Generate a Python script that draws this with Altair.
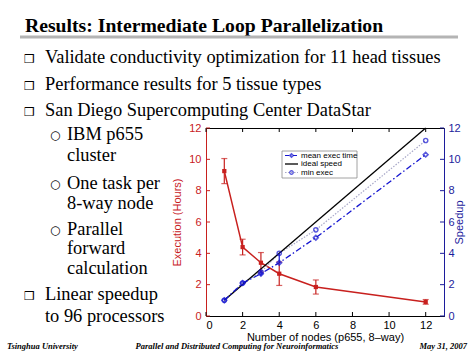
import altair as alt
import pandas as pd

# ---------------- data ----------------
nodes = [1, 2, 3, 4, 6, 12]
exec_hours = [9.25, 4.4, 3.4, 2.7, 1.85, 0.9]
exec_low = [8.45, 3.9, 2.8, 1.95, 1.4, 0.75]
exec_high = [10.05, 4.9, 4.05, 3.45, 2.3, 1.05]
speedup_mean = [1.0, 2.1, 2.7, 3.4, 5.0, 10.3]
speedup_min = [1.0, 2.1, 2.8, 4.0, 5.5, 11.2]
speed_err_nodes = [3, 4]
speed_err_low = [2.55, 3.4]
speed_err_high = [2.9, 4.0]
ideal_nodes = [1, 12]
ideal_speedup = [1, 12]
x_ticks = [0, 2, 4, 6, 8, 10, 12]
y_ticks = [0, 2, 4, 6, 8, 10, 12]

title_text = "Results: Intermediate Loop Parallelization"
bullets = [
    "Validate conductivity optimization for 11 head tissues",
    "Performance results for 5 tissue types",
    "San Diego Supercomputing Center DataStar",
]
sub_lines = ["IBM p655", "cluster", "One task per", "8-way node", "Parallel", "forward", "calculation"]
sub_has_bullet = [True, False, True, False, True, False, False]
last_bullet = ["Linear speedup", "to 96 processors"]
footer_left = "Tsinghua University"
footer_mid = "Parallel and Distributed Computing for Neuroinformatics"
footer_right = "May 31, 2007"
legend_labels = ["mean exec time", "ideal speed", "min exec"]

# ---------------- styling ----------------
W, H = 238, 188
RED = "#c8201e"
BLUE_AX = "#1c1c9c"
BLUE = "#1414d0"
MINC = "#a8a8c8"
SANS = "Liberation Sans, Arial, Helvetica, sans-serif"
SERIF = "Liberation Serif, 'Times New Roman', 'DejaVu Serif', serif"

xscale = alt.Scale(domain=[0, 13], nice=False, zero=False)
yscale = alt.Scale(domain=[0, 12], nice=False)

xaxis = alt.Axis(values=x_ticks, title="Number of nodes (p655, 8\u2013way)", ticks=False, grid=False,
                 labelColor="black", domainColor="black", titleColor="black",
                 labelFont=SANS, titleFont=SANS, labelFontSize=11, titleFontSize=11,
                 titleFontWeight="normal", labelPadding=3, titlePadding=1)
yaxis_left = alt.Axis(values=y_ticks, title="Execution (Hours)", ticks=False, grid=False, orient="left",
                      labelColor=RED, domainColor=RED, titleColor=RED,
                      labelFont=SANS, titleFont=SANS, labelFontSize=11, titleFontSize=11,
                      titleFontWeight="normal", labelPadding=5, titlePadding=6)
yaxis_right = alt.Axis(values=y_ticks, title="Speedup", ticks=False, grid=False, orient="right",
                       labelColor=BLUE_AX, domainColor=BLUE_AX, titleColor=BLUE_AX,
                       labelFont=SANS, titleFont=SANS, labelFontSize=11, titleFontSize=11,
                       titleFontWeight="normal", labelPadding=4, titlePadding=4, titleAngle=270)

X = alt.X("nodes:Q", scale=xscale, axis=xaxis)

# ---------------- execution (left axis) ----------------
exec_df = pd.DataFrame({"nodes": nodes, "v": exec_hours, "lo": exec_low, "hi": exec_high})
YL = alt.Y("v:Q", scale=yscale, axis=yaxis_left)
eb = alt.Chart(exec_df)
red_line = eb.mark_line(color=RED, strokeWidth=1.5).encode(x=X, y=YL)
red_err = eb.mark_rule(color=RED, strokeWidth=1.2).encode(
    x=X, y=alt.Y("lo:Q", scale=yscale, axis=yaxis_left), y2="hi:Q")
red_cap_lo = eb.mark_tick(color=RED, orient="horizontal", size=6, thickness=1.2).encode(
    x=X, y=alt.Y("lo:Q", scale=yscale, axis=yaxis_left))
red_cap_hi = eb.mark_tick(color=RED, orient="horizontal", size=6, thickness=1.2).encode(
    x=X, y=alt.Y("hi:Q", scale=yscale, axis=yaxis_left))
red_pts = eb.mark_point(color=RED, filled=True, shape="square", size=18, opacity=1).encode(x=X, y=YL)

tick_df = pd.DataFrame({"t": y_ticks})
left_ticks = alt.Chart(tick_df).mark_rule(color=RED).encode(
    y=alt.Y("t:Q", scale=yscale, axis=yaxis_left), x=alt.value(0), x2=alt.value(4))

layer_left = alt.layer(red_line, red_err, red_cap_lo, red_cap_hi, red_pts, left_ticks)

# ---------------- speedup (right axis) ----------------
YR = alt.Y("v:Q", scale=yscale, axis=yaxis_right)
mean_df = pd.DataFrame({"nodes": nodes, "v": speedup_mean})
min_df = pd.DataFrame({"nodes": nodes, "v": speedup_min})
ideal_df = pd.DataFrame({"nodes": ideal_nodes, "v": ideal_speedup})
serr_df = pd.DataFrame({"nodes": speed_err_nodes, "lo": speed_err_low, "hi": speed_err_high})

min_line = alt.Chart(min_df).mark_line(color=MINC, strokeWidth=1.2, strokeDash=[1.5, 1.5]).encode(x=X, y=YR)
ideal_line = alt.Chart(ideal_df).mark_line(color="black", strokeWidth=1.3).encode(x=X, y=YR)
mean_line = alt.Chart(mean_df).mark_line(color=BLUE, strokeWidth=1.3, strokeDash=[6, 2.5, 1.5, 2.5]).encode(x=X, y=YR)
speed_err = alt.Chart(serr_df).mark_rule(color=BLUE, strokeWidth=1.2).encode(
    x=X, y=alt.Y("lo:Q", scale=yscale, axis=yaxis_right), y2="hi:Q")
min_pts = alt.Chart(min_df).mark_point(color=BLUE, shape="circle", filled=False, size=18, strokeWidth=1.4).encode(x=X, y=YR)
mean_pts = alt.Chart(mean_df).mark_point(color=BLUE, shape="diamond", filled=False, size=22, strokeWidth=1.6).encode(x=X, y=YR)
right_ticks = alt.Chart(tick_df).mark_rule(color=BLUE_AX).encode(
    y=alt.Y("t:Q", scale=yscale, axis=yaxis_right), x=alt.value(W - 4), x2=alt.value(W))

layer_right = alt.layer(min_line, ideal_line, mean_line, speed_err, min_pts, mean_pts, right_ticks)

# ---------------- x ticks (bottom & top, inward) ----------------
xt_df = pd.DataFrame({"nodes": x_ticks})
bottom_ticks = alt.Chart(xt_df).mark_rule(color="black").encode(x=X, y=alt.value(H - 4), y2=alt.value(H))
top_ticks = alt.Chart(xt_df).mark_rule(color="black").encode(x=X, y=alt.value(0), y2=alt.value(4))

# ---------------- decorations (slide text, legend) ----------------
one = pd.DataFrame({"a": [0]})


def txt(s, x, y, size, font=SERIF, weight="normal", style="normal", align="left", color="black", baseline="alphabetic"):
    return alt.Chart(one).mark_text(align=align, baseline=baseline, font=font, fontSize=size,
                                    fontWeight=weight, fontStyle=style, color=color).encode(
        x=alt.value(x), y=alt.value(y), text=alt.value(s))


def hrule(x1, x2, y, color, width=1.0, dash=None):
    kw = dict(color=color, strokeWidth=width)
    if dash:
        kw["strokeDash"] = dash
    return alt.Chart(one).mark_rule(**kw).encode(x=alt.value(x1), x2=alt.value(x2), y=alt.value(y))


OX, OY = 206, 128  # plot origin in page pixels
deco = []
deco.append(txt(title_text, 25 - OX, 32 - OY, 19.7, weight="bold"))
deco.append(hrule(20 - OX, 458 - OX, 37 - OY, "#b4b4b4", 3))

BUL = "\u2752"
CIR = "\u25cb"
FS = 18.4
for s, base in zip(bullets, [63, 90, 116]):
    deco.append(txt(BUL, 24 - OX, base - OY, 12, font="DejaVu Sans"))
    deco.append(txt(s, 45 - OX, base - OY, FS))
for s, hb, base in zip(sub_lines, sub_has_bullet, [140, 161, 189, 209, 235, 254, 274]):
    if hb:
        deco.append(txt(CIR, 50 - OX, base - 1 - OY, 12, font="DejaVu Sans"))
    deco.append(txt(s, 67 - OX, base - OY, FS))
deco.append(txt(BUL, 24 - OX, 300 - OY, 12, font="DejaVu Sans"))
deco.append(txt(last_bullet[0], 45 - OX, 300 - OY, FS))
deco.append(txt(last_bullet[1], 45 - OX, 322 - OY, FS))

deco.append(txt(footer_left, 7 - OX, 349 - OY, 8.5, weight="bold", style="italic"))
deco.append(txt(footer_mid, 237 - OX, 349 - OY, 8.5, weight="bold", style="italic", align="center"))
deco.append(txt(footer_right, 467 - OX, 349 - OY, 8.5, weight="bold", style="italic", align="right"))

# legend box
LX1, LX2, LY1, LY2 = 76, 151, 23, 50
deco.append(alt.Chart(one).mark_rect(fill="white", stroke="#8c8c8c", strokeWidth=0.8).encode(
    x=alt.value(LX1), x2=alt.value(LX2), y=alt.value(LY1), y2=alt.value(LY2)))
rows = [27.5, 36, 44.5]
deco.append(hrule(LX1 + 3, LX1 + 16, rows[0], BLUE, 1.2, [4, 1.5, 1, 1.5]))
deco.append(alt.Chart(one).mark_point(color=BLUE, shape="diamond", filled=False, size=14, strokeWidth=1.4).encode(
    x=alt.value(LX1 + 9.5), y=alt.value(rows[0])))
deco.append(hrule(LX1 + 3, LX1 + 16, rows[1], "black", 1.3))
deco.append(hrule(LX1 + 3, LX1 + 16, rows[2], MINC, 1.2, [1.5, 1.5]))
deco.append(alt.Chart(one).mark_point(color=BLUE, shape="circle", filled=False, size=12, strokeWidth=1.3).encode(
    x=alt.value(LX1 + 9.5), y=alt.value(rows[2])))
for lab, r in zip(legend_labels, rows):
    deco.append(txt(lab, LX1 + 19, r, 8, font=SANS, baseline="middle"))

chart = alt.layer(layer_left, layer_right, bottom_ticks, top_ticks, *deco).resolve_scale(
    y="independent"
).properties(
    width=W, height=H,
    padding={"left": OX, "top": OY, "right": 474 - OX - W, "bottom": 355 - OY - H},
    autosize=alt.AutoSizeParams(type="none"),
    background="white",
).configure_view(stroke="black", strokeWidth=1)

chart.save("out.html", embed_options={"renderer": "svg", "actions": False})
